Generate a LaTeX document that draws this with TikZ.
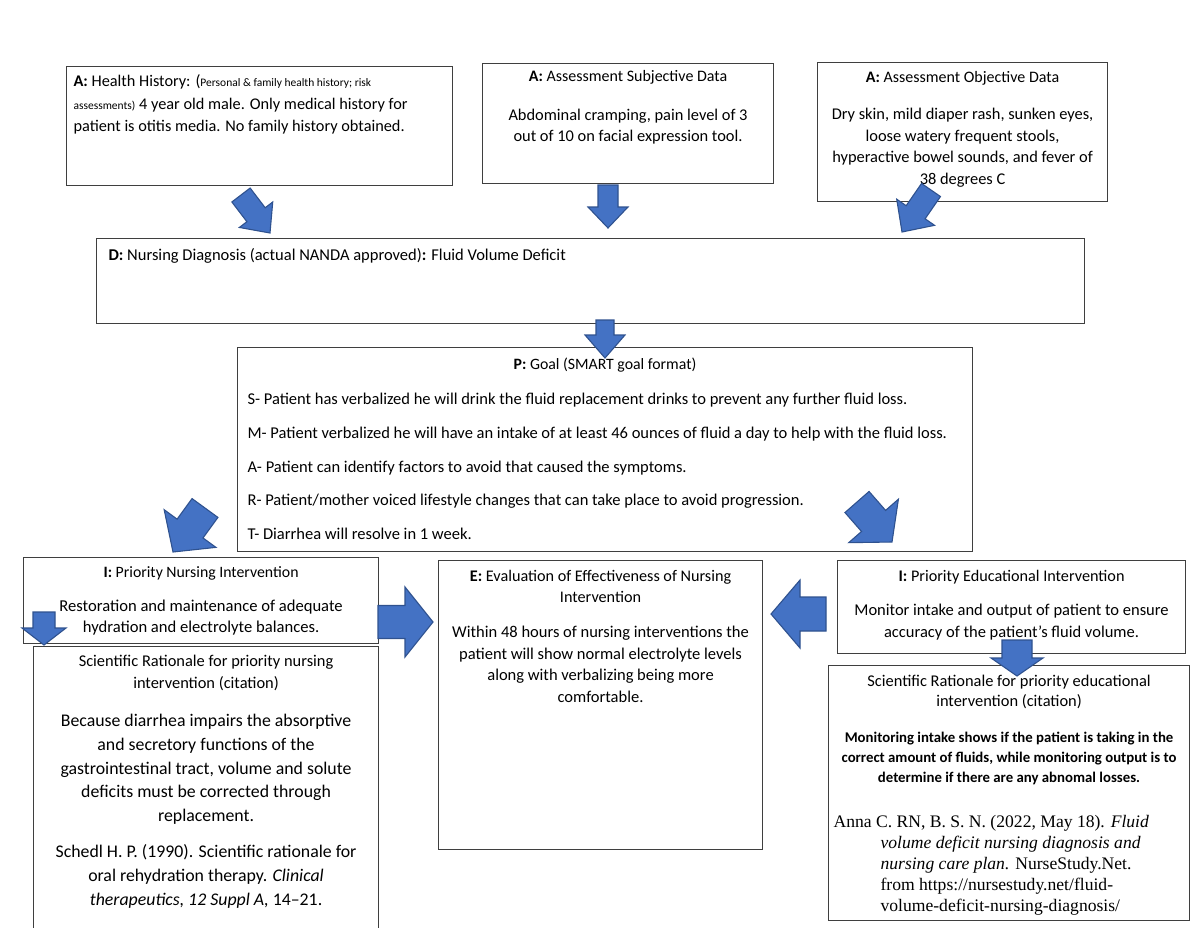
\documentclass[tikz,border=0pt]{standalone}
\usepackage{fontspec}
\setmainfont{Carlito}
\newfontfamily\refserif{Liberation Serif}
\usetikzlibrary{calc}

\definecolor{arrowblue}{HTML}{4472C4}
\definecolor{arrowedge}{HTML}{2F528F}
\definecolor{boxline}{HTML}{3F3F3F}

\newcommand\boxtext[3]{\parbox[t][#2][t]{#1}{#3}}
\newcommand\fs[2]{\fontsize{#1}{#2}\selectfont}

\tikzset{
  box/.style={draw=boxline, line width=1.1pt, inner sep=0pt, anchor=north west},
  fat/.style n args={3}{draw=arrowedge, fill=arrowblue, line width=1.1pt, line join=miter,
    to path={($(\tikztostart)!#1!90:(\tikztotarget)$)
      -- ($($(\tikztotarget)!#3!(\tikztostart)$)!#1!90:(\tikztotarget)$)
      -- ($($(\tikztotarget)!#3!(\tikztostart)$)!#2!90:(\tikztotarget)$)
      -- (\tikztotarget)
      -- ($($(\tikztotarget)!#3!(\tikztostart)$)!#2!-90:(\tikztotarget)$)
      -- ($($(\tikztotarget)!#3!(\tikztostart)$)!#1!-90:(\tikztotarget)$)
      -- ($(\tikztostart)!#1!-90:(\tikztotarget)$) -- cycle}}
}

\begin{document}
\begin{tikzpicture}[x=1pt, y=-1pt]
\useasboundingbox (0,0) rectangle (1200,927);

\node[box] (hh) at (66,66) {\boxtext{386pt}{119pt}{\raggedright\leftskip=7pt\fs{16.3}{22.5}%
\rule{0pt}{20pt}\textbf{A:} Health History: ({\fs{11.5}{12}Personal \& family health history; risk}\\
{\fs{11.5}{12}assessments)} 4 year old male. Only medical history for\\
patient is otitis media. No family history obtained.\par}};

\node[box] (subj) at (482,63) {\boxtext{291pt}{120pt}{\centering
{\fs{16}{16}\rule{0pt}{18pt}\textbf{A:} Assessment Subjective Data\par}
\vspace{18pt}
{\fs{16.4}{21}Abdominal cramping, pain level of 3\\ out of 10 on facial expression tool.\par}}};

\node[box] (obj) at (817,62) {\boxtext{290pt}{139pt}{\centering
{\fs{16}{16}\rule{0pt}{20pt}\textbf{A:} Assessment Objective Data\par}
\vspace{15.3pt}
{\fs{16.4}{21.7}Dry skin, mild diaper rash, sunken eyes,\\ loose watery frequent stools,\\ hyperactive bowel sounds, and fever of\\ 38 degrees C\par}}};

\node[box] (diag) at (96,238) {\boxtext{988pt}{85pt}{\raggedright\leftskip=12pt\fs{16.5}{17}%
\rule{0pt}{22pt}\textbf{D:} Nursing Diagnosis (actual NANDA approved)\textbf{:} Fluid Volume Deficit\par}};

\node[box] (goal) at (237,347) {\boxtext{735pt}{204pt}{%
{\centering\fs{15.8}{16}\rule{0pt}{22pt}\textbf{P:} Goal (SMART goal format)\par}
\vspace{1.25pt}
{\raggedright\leftskip=10pt\fs{16.5}{33.75}S- Patient has verbalized he will drink the fluid replacement drinks to prevent any further fluid loss.\\
M- Patient verbalized he will have an intake of at least 46 ounces of fluid a day to help with the fluid loss.\\
A- Patient can identify factors to avoid that caused the symptoms.\\
R- Patient/mother voiced lifestyle changes that can take place to avoid progression.\\
T- Diarrhea will resolve in 1 week.\par}}};

\node[box] (nurse) at (23,557) {\boxtext{355pt}{86pt}{\centering
{\fs{15.8}{16}\rule{0pt}{20pt}\textbf{I:} Priority Nursing Intervention\par}
\vspace{13pt}
{\fs{16.6}{21}Restoration and maintenance of adequate\\ hydration and electrolyte balances.\par}}};

\node[box] (rat) at (33,646) {\boxtext{345pt}{290pt}{\centering
{\fs{16.4}{22}\rule{0pt}{20pt}Scientific Rationale for priority nursing\\ intervention (citation)\par}
\vspace{14.2pt}
{\fs{17.8}{23.8}Because diarrhea impairs the absorptive\\ and secretory functions of the\\ gastrointestinal tract, volume and solute\\ deficits must be corrected through\\ replacement.\par}
\vspace{12.2pt}
{\fs{17.8}{23.8}Schedl H. P. (1990). Scientific rationale for\\ oral rehydration therapy. \textit{Clinical}\\ \textit{therapeutics, 12 Suppl A,} 14--21.\par}}};

\node[box] (evalbox) at (438,560) {\boxtext{324pt}{289pt}{\centering
{\fs{16.2}{21}\rule{0pt}{21pt}\textbf{E:} Evaluation of Effectiveness of Nursing\\ Intervention\par}
\vspace{13.3pt}
{\fs{16.5}{21.7}Within 48 hours of nursing interventions the\\ patient will show normal electrolyte levels\\ along with verbalizing being more\\ comfortable.\par}}};

\node[box] (edu) at (837,560) {\boxtext{348pt}{93pt}{\centering
{\fs{16.2}{16}\rule{0pt}{21pt}\textbf{I:} Priority Educational Intervention\par}
\vspace{12pt}
{\fs{16.5}{22}Monitor intake and output of patient to ensure\\ accuracy of the patient’s fluid volume.\par}}};

\node[box] (edurat) at (828,665) {\boxtext{361pt}{255pt}{%
{\centering\fs{16.4}{20}\rule{0pt}{21pt}Scientific Rationale for priority educational\\ intervention (citation)\par}
\vspace{16pt}
{\centering\bfseries\fs{14.8}{20}Monitoring intake shows if the patient is taking in the\\ correct amount of fluids, while monitoring output is to\\ determine if there are any abnomal losses.\par}
\vspace{24pt}
{\raggedright\refserif\leftskip=5pt\hangindent=47pt\hangafter=1\fs{17.6}{21}Anna C. RN, B. S. N. (2022, May 18). \textit{Fluid}\newline
\textit{volume deficit nursing diagnosis and}\newline
\textit{nursing care plan.} NurseStudy.Net.\newline
from https://nursestudy.net/fluid-\newline
volume-deficit-nursing-diagnosis/\par}}};

\coordinate (t1) at (241,195); \coordinate (h1) at (270,233);
\coordinate (t2) at (608,185); \coordinate (h2) at (608,228);
\coordinate (t3) at (931,190); \coordinate (h3) at (902,232);
\coordinate (t4) at (605,320); \coordinate (h4) at (605,358);
\coordinate (t5) at (205,508); \coordinate (h5) at (173,552);
\coordinate (t6) at (857,502); \coordinate (h6) at (892,542);
\coordinate (t7) at (378,622); \coordinate (h7) at (433,622);
\coordinate (t8) at (826,614); \coordinate (h8) at (771,614);
\coordinate (t9) at (44,612);  \coordinate (h9) at (44,645);
\coordinate (t10) at (1017,640); \coordinate (h10) at (1017,676);

\path (t1) edge[fat={11.5pt}{21pt}{23pt}] (h1);
\path (t2) edge[fat={10pt}{20pt}{21pt}] (h2);
\path (t3) edge[fat={11.5pt}{23pt}{24pt}] (h3);
\path (t4) edge[fat={9pt}{20pt}{23pt}] (h4);
\path (t5) edge[fat={16pt}{32pt}{29pt}] (h5);
\path (t6) edge[fat={16pt}{33pt}{28pt}] (h6);
\path (t7) edge[fat={16.5pt}{35pt}{28pt}] (h7);
\path (t8) edge[fat={17pt}{34pt}{29pt}] (h8);
\path (t9) edge[fat={11pt}{22pt}{17pt}] (h9);
\path (t10) edge[fat={15pt}{26pt}{18pt}] (h10);

\end{tikzpicture}
\end{document}
